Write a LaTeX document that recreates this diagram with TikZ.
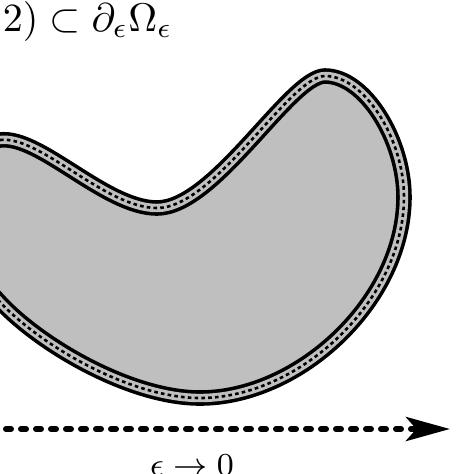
\documentclass[tikz,border=0pt]{standalone}
\usepackage{amssymb}
\usepackage{amsmath}
\usetikzlibrary{arrows.meta}

\begin{document}
\begin{tikzpicture}
  [x=0.25pt,y=-0.25pt,
   region/.style={fill=black!25,
     postaction={draw=black,line width=3.9pt,line join=round},
     postaction={draw=black!25,line width=2.1pt},
     postaction={draw=black,line width=0.65pt,dash pattern=on 0.9pt off 0.8pt}},
   flow/.style={line width=1.5pt,line cap=round,dash pattern=on 1.25pt off 2.5pt,
     -{Stealth[length=11pt,width=6pt,inset=2.6pt]}}]
  \clip (0,0) rectangle (474,474);

  \path[region] (0,140) .. controls (40,135) and (105,208) .. (157,208)
    .. controls (215,208) and (290,76) .. (325,76)
    .. controls (365,76) and (404,140) .. (404,197)
    .. controls (404,300) and (300,398) .. (200,398)
    .. controls (130,398) and (40,345) .. (0,302)
    .. controls (-30,270) and (-60,230) .. (-60,190)
    .. controls (-60,160) and (-24,143) .. cycle;

  \node (incl) [anchor=base west,inner sep=0] at (2,31)
    {$2)\subset\partial_\epsilon\Omega_\epsilon$};

  \coordinate (from) at (6,429);
  \coordinate (to) at (450,429);
  \draw[flow] (from) -- (to);

  \node (lim) [anchor=base,inner sep=0,font=\footnotesize] at (192,475)
    {$\epsilon\to 0$};
\end{tikzpicture}
\end{document}
